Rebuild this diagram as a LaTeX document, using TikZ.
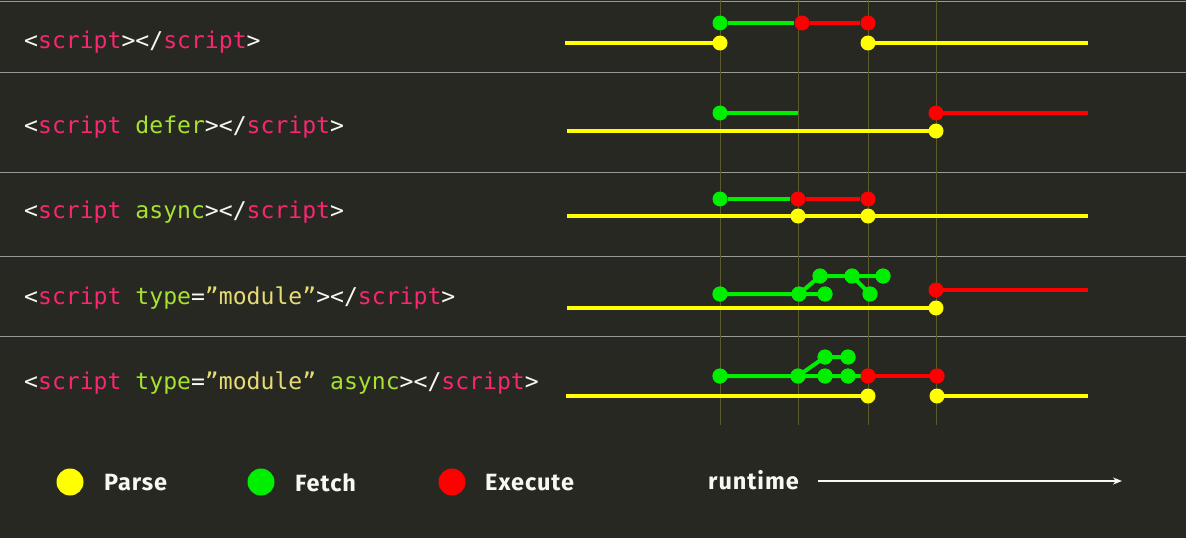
\documentclass[tikz,border=0pt]{standalone}
\usepackage{fontspec}
\setmonofont{DejaVu Sans Mono}
\setsansfont[LetterSpace=4]{Fira Sans}
\usetikzlibrary{arrows.meta}
\definecolor{bg}{HTML}{272822}
\definecolor{pk}{HTML}{F92672}
\definecolor{gn}{HTML}{A6E22E}
\definecolor{st}{HTML}{E6DB74}
\definecolor{wt}{HTML}{F8F8F2}
\definecolor{Y}{HTML}{FFFF00}
\definecolor{G}{HTML}{00EE00}
\definecolor{R}{HTML}{FF0000}
\definecolor{guide}{HTML}{5A5A2A}
\begin{document}
\begin{tikzpicture}[x=1pt,y=-1pt,
  code/.style={anchor=west,inner sep=0pt,font=\ttfamily\fontsize{23.1}{23.1}\selectfont,text=wt},
  leg/.style={anchor=west,inner sep=0pt,font=\sffamily\bfseries\fontsize{23.5}{23.5}\selectfont,text=wt},
  ln/.style={line width=4pt},
  dot/.style={circle,fill=#1,minimum size=15pt,inner sep=0pt}]
\fill[bg] (0,0) rectangle (1186,538);
\useasboundingbox (0,0) rectangle (1186,538);
\foreach \yy in {1,72,172,256,336} \draw[gray!80,line width=1pt] (0,\yy) -- (1186,\yy);
\foreach \xx in {720,798,868,936} \draw[guide,line width=1pt] (\xx,0) -- (\xx,425);
% labels
\node[code] (l1) at (24,42) {<\textcolor{pk}{script}></\textcolor{pk}{script}>};
\node[code] (l2) at (24,127) {<\textcolor{pk}{script} \textcolor{gn}{defer}></\textcolor{pk}{script}>};
\node[code] (l3) at (24,212) {<\textcolor{pk}{script} \textcolor{gn}{async}></\textcolor{pk}{script}>};
\node[code] (l4) at (24,298) {<\textcolor{pk}{script} \textcolor{gn}{type}=\textcolor{st}{”module”}></\textcolor{pk}{script}>};
\node[code] (l5) at (24,383) {<\textcolor{pk}{script} \textcolor{gn}{type}=\textcolor{st}{”module”} \textcolor{gn}{async}></\textcolor{pk}{script}>};
% row1
\coordinate (a0) at (565,43); \coordinate (a9) at (1088,43);
\node[dot=Y] (ay1) at (720,43) {}; \node[dot=Y] (ay2) at (868,43) {};
\draw[ln,Y] (a0) -- (ay1.center); \draw[ln,Y] (ay2.center) -- (a9);
\node[dot=G] (ag1) at (720,23) {}; \node[dot=R] (ar1) at (802,23) {}; \node[dot=R] (ar2) at (868,23) {};
\draw[ln,G] (ag1) -- (ar1); \draw[ln,R] (ar1) -- (ar2);
% row2
\coordinate (b0) at (567,131); \coordinate (b9) at (1088,113); \coordinate (bg2) at (798,113);
\node[dot=Y] (by1) at (936,131) {};
\draw[ln,Y] (b0) -- (by1.center);
\node[dot=G] (bg1) at (720,113) {}; \draw[ln,G] (bg1.center) -- (bg2);
\node[dot=R] (br1) at (936,113) {}; \draw[ln,R] (br1.center) -- (b9);
% row3
\coordinate (c0) at (567,216); \coordinate (c9) at (1088,216);
\draw[ln,Y] (c0) -- (c9);
\node[dot=Y] at (798,216) {}; \node[dot=Y] at (868,216) {};
\node[dot=G] (cg1) at (720,199) {}; \node[dot=R] (cr1) at (798,199) {}; \node[dot=R] (cr2) at (868,199) {};
\draw[ln,G] (cg1) -- (cr1); \draw[ln,R] (cr1) -- (cr2);
% row4
\coordinate (d0) at (567,308); \coordinate (d9) at (1088,290);
\node[dot=Y] (dy1) at (936,308) {}; \draw[ln,Y] (d0) -- (dy1.center);
\node[dot=R] (dr1) at (936,290) {}; \draw[ln,R] (dr1.center) -- (d9);
\node[dot=G] (d1) at (720,294) {}; \node[dot=G] (d2) at (799,294) {}; \node[dot=G] (d3) at (825,294) {};
\node[dot=G] (d4) at (820,276) {}; \node[dot=G] (d5) at (852,276) {}; \node[dot=G] (d6) at (883,276) {};
\node[dot=G] (d7) at (870,294) {};
\draw[ln,G] (d1.center) -- (d2.center) -- (d3.center) (d2.center) -- (d4.center) -- (d5.center) -- (d6.center) (d5.center) -- (d7.center);
\foreach \n in {d1,d2,d3,d4,d5,d6,d7} \node[dot=G] at (\n) {};
% row5
\coordinate (e0) at (566,396); \coordinate (e9) at (1088,396);
\node[dot=Y] (ey1) at (868,396) {}; \node[dot=Y] (ey2) at (937,396) {};
\draw[ln,Y] (e0) -- (ey1.center); \draw[ln,Y] (ey2.center) -- (e9);
\node[dot=G] (e1) at (720,376) {}; \node[dot=G] (e2) at (798,376) {}; \node[dot=G] (e3) at (825,376) {};
\node[dot=G] (e4) at (848,376) {}; \node[dot=G] (e5) at (825,357) {}; \node[dot=G] (e6) at (848,357) {};
\node[dot=R] (er1) at (868,376) {}; \node[dot=R] (er2) at (937,376) {};
\draw[ln,G] (e1.center) -- (e4.center) -- (er1.center) (e2.center) -- (e5.center) -- (e6.center);
\draw[ln,R] (er1.center) -- (er2.center);
\foreach \n in {e1,e2,e3,e4,e5,e6} \node[dot=G] at (\n) {};
\node[dot=R] at (er1) {}; \node[dot=R] at (er2) {};
% legend
\node[dot=Y,minimum size=27pt] (ly) at (70,482) {}; \node[leg] (lp) at (104,483) {Parse};
\node[dot=G,minimum size=27pt] (lg) at (261,482) {}; \node[leg] (lf) at (295,483) {Fetch};
\node[dot=R,minimum size=27pt] (lr) at (452,482) {}; \node[leg] (le) at (485,483) {Execute};
\node[leg] (rt) at (708,480) {runtime};
\coordinate (ra) at (1122,481);
\draw[wt,line width=1.4pt,-{Stealth[length=9pt,width=7pt]}] (818,481) -- (ra);
\end{tikzpicture}
\end{document}
